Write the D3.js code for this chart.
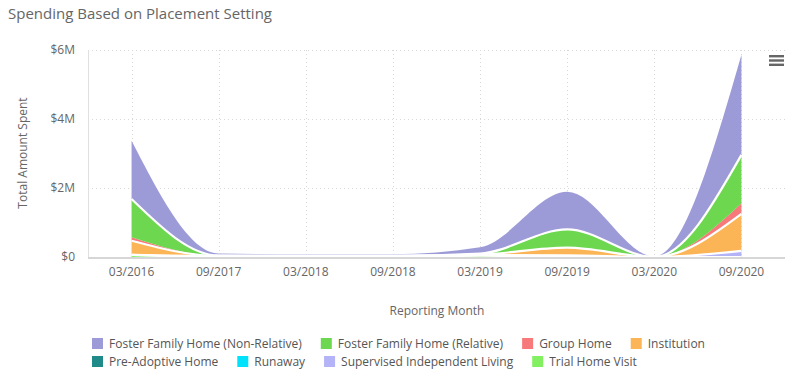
<!DOCTYPE html>
<html>
<head>
<meta charset="utf-8">
<script src="https://cdn.jsdelivr.net/npm/d3@7"></script>
<style>
  html, body { margin: 0; padding: 0; background: #fff; }
  svg { display: block; font-family: "Open Sans", "Noto Sans", sans-serif; }
</style>
</head>
<body>
<svg id="chart" width="800" height="383"></svg>
<script>
// ---- Data (values in US dollars) ----
const categories = ["03/2016", "09/2017", "03/2018", "09/2018", "03/2019", "09/2019", "03/2020", "09/2020"];
const fosterNonRelative = [1690000, 60000, 50000, 50000, 180000, 1090000, 10000, 2900000];
const fosterRelative    = [1110000, 10000, 0, 0, 30000, 530000, 0, 1400000];
const groupHome         = [100000, 0, 0, 0, 0, 0, 0, 310000];
const institution       = [410000, 0, 0, 0, 10000, 220000, 0, 1070000];
const preAdoptiveHome   = [0, 0, 0, 0, 0, 0, 0, 0];
const runaway           = [0, 0, 0, 0, 0, 0, 0, 0];
const supervisedIndependentLiving = [0, 30000, 30000, 30000, 20000, 50000, 0, 180000];
const trialHomeVisit    = [60000, 0, 0, 0, 40000, 0, 0, 0];
const seriesNames = ["Foster Family Home (Non-Relative)", "Foster Family Home (Relative)", "Group Home", "Institution",
                     "Pre-Adoptive Home", "Runaway", "Supervised Independent Living", "Trial Home Visit"];
const yTicks = [0, 2000000, 4000000, 6000000];

// ---- Styles ----
const colors = ["#9d9bd7", "#6cd74f", "#f7797a", "#fbb557", "#1f8a87", "#00e1fc", "#b4b3f7", "#82f060"];
const whiteOutline = [false, true, false, true, false, false, true, true];

const seriesValues = [fosterNonRelative, fosterRelative, groupHome, institution,
                      preAdoptiveHome, runaway, supervisedIndependentLiving, trialHomeVisit];

const rows = categories.map((c, i) => {
  const r = { cat: c };
  seriesNames.forEach((n, s) => r[n] = seriesValues[s][i]);
  return r;
});

const svg = d3.select("#chart");
const plot = { left: 88, right: 785, top: 50, bottom: 257 };

const x = d3.scalePoint().domain(categories).range([plot.left, plot.right]).padding(0.5);
const y = d3.scaleLinear().domain([0, 6000000]).range([plot.bottom, plot.top]);

// Title
svg.append("text").attr("x", 8).attr("y", 19)
  .attr("font-size", 15).attr("fill", "#666")
  .text("Spending Based on Placement Setting");

// Grid lines
const grid = svg.append("g");
grid.selectAll("line.h").data(yTicks.filter(d => d > 0)).join("line")
  .attr("x1", plot.left).attr("x2", plot.right)
  .attr("y1", d => y(d) + 0.5).attr("y2", d => y(d) + 0.5)
  .attr("stroke", "#d8d8d8").attr("stroke-dasharray", "1,3");
grid.selectAll("line.v").data(categories).join("line")
  .attr("x1", d => Math.round(x(d)) + 0.5).attr("x2", d => Math.round(x(d)) + 0.5)
  .attr("y1", plot.top).attr("y2", plot.bottom)
  .attr("stroke", "#d8d8d8").attr("stroke-dasharray", "1,3");

// Stacked areas (first series on top, like the source)
const stackKeys = seriesNames.slice().reverse();
const stacked = d3.stack().keys(stackKeys)(rows);

const area = d3.area()
  .x(d => x(d.data.cat))
  .y0(d => y(d[0]))
  .y1(d => y(d[1]))
  .curve(d3.curveMonotoneX);
const topLine = d3.line()
  .x(d => x(d.data.cat))
  .y(d => y(d[1]))
  .curve(d3.curveMonotoneX);

const areasG = svg.append("g");
stacked.forEach(layer => {
  const idx = seriesNames.indexOf(layer.key);
  areasG.append("path").datum(layer)
    .attr("d", area).attr("fill", colors[idx]);
});
stacked.forEach(layer => {
  const idx = seriesNames.indexOf(layer.key);
  if (whiteOutline[idx]) {
    areasG.append("path").datum(layer)
      .attr("d", topLine).attr("fill", "none")
      .attr("stroke", "#fff").attr("stroke-width", 2.2);
  }
});

// Axes lines
svg.append("line").attr("x1", plot.left + 0.5).attr("x2", plot.left + 0.5)
  .attr("y1", plot.top).attr("y2", plot.bottom)
  .attr("stroke", "#e0e0e0");
svg.append("line").attr("x1", plot.left).attr("x2", plot.right)
  .attr("y1", plot.bottom + 1).attr("y2", plot.bottom + 1)
  .attr("stroke", "#d6d6d6").attr("stroke-width", 2);

// Y axis labels
const fmt = v => v === 0 ? "$0" : "$" + (v / 1e6) + "M";
svg.append("g").selectAll("text").data(yTicks).join("text")
  .attr("x", 75).attr("y", d => y(d) + 4)
  .attr("text-anchor", "end").attr("font-size", 12).attr("fill", "#666")
  .text(fmt);

// X axis labels
svg.append("g").selectAll("text").data(categories).join("text")
  .attr("x", d => x(d)).attr("y", 276)
  .attr("text-anchor", "middle").attr("font-size", 12).attr("fill", "#666")
  .text(d => d);

// Axis titles
svg.append("text").attr("transform", "translate(27,153) rotate(-90)")
  .attr("text-anchor", "middle").attr("font-size", 12).attr("fill", "#666")
  .text("Total Amount Spent");
svg.append("text").attr("x", 437).attr("y", 315)
  .attr("text-anchor", "middle").attr("font-size", 12).attr("fill", "#666")
  .text("Reporting Month");

// Legend (flow layout, two rows of four)
const legend = svg.append("g");
const rowsY = [344, 362];
let idx = 0;
rowsY.forEach((ry) => {
  let cx = 92;
  for (let k = 0; k < 4; k++, idx++) {
    const g = legend.append("g").attr("transform", `translate(${cx},${ry})`);
    g.append("rect").attr("x", 0).attr("y", -6).attr("width", 11).attr("height", 11)
      .attr("fill", colors[idx]);
    const t = g.append("text").attr("x", 17).attr("y", 4)
      .attr("font-size", 12).attr("fill", "#555").text(seriesNames[idx]);
    cx += 17 + t.node().getComputedTextLength() + 19;
  }
});

// Menu icon
const menu = svg.append("g");
[0, 1, 2].forEach(k => {
  menu.append("rect").attr("x", 769).attr("y", 55 + k * 4.3).attr("width", 15).attr("height", 2.4)
    .attr("fill", "#666");
});
</script>
</body>
</html>
